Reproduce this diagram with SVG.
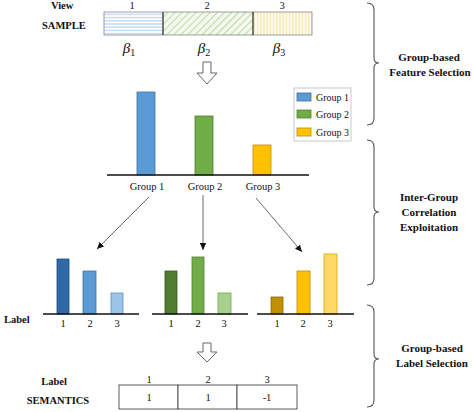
<svg xmlns="http://www.w3.org/2000/svg" width="474" height="412" viewBox="0 0 474 412" font-family="'Liberation Serif', 'DejaVu Serif', serif">
<defs>
<style>
text{font-family:'Liberation Serif','DejaVu Serif',serif;fill:#111;}
.b{font-weight:bold;font-size:10.5px;}
.n{font-size:10.5px;text-anchor:middle;}
.lg{font-size:10px;}
.beta{font-size:15px;font-style:italic;text-anchor:middle;}
.axis{stroke:#111;stroke-width:1.5;}
.brace{fill:none;stroke:#555;stroke-width:1.1;}
.conn{stroke:#444;stroke-width:0.8;fill:none;}
.hollow{fill:#fff;stroke:#666;stroke-width:1;}
.bl{fill:#5B9BD5;stroke:#41719C;stroke-width:0.8;}
.gr{fill:#70AD47;stroke:#507E32;stroke-width:0.8;}
.ye{fill:#FFC000;stroke:#BC8C00;stroke-width:0.8;}
.bl1{fill:#2E6AA8;stroke:#1F4E79;stroke-width:0.8;}
.bl3{fill:#9DC3E6;stroke:#5B8FBF;stroke-width:0.8;}
.gr1{fill:#4E7D2E;stroke:#375623;stroke-width:0.8;}
.gr3{fill:#A9D18E;stroke:#70AD47;stroke-width:0.8;}
.ye1{fill:#BF9000;stroke:#8C6A00;stroke-width:0.8;}
.ye3{fill:#FFD966;stroke:#D4A800;stroke-width:0.8;}
.cell{fill:#fff;stroke:#333;stroke-width:0.8;}
.bc{text-anchor:middle;font-weight:bold;font-size:11px;}
</style>
<pattern id="ph" width="6" height="3.2" patternUnits="userSpaceOnUse"><rect width="6" height="3.2" fill="#fff"/><line x1="0" y1="1.6" x2="6" y2="1.6" stroke="#9DC3E6" stroke-width="0.9"/></pattern>
<pattern id="pd" width="5" height="5" patternUnits="userSpaceOnUse" patternTransform="rotate(45)"><rect width="5" height="5" fill="#F4F9EE"/><line x1="2.5" y1="0" x2="2.5" y2="5" stroke="#B5D69C" stroke-width="0.9"/></pattern>
<pattern id="pv" width="3.2" height="6" patternUnits="userSpaceOnUse"><rect width="3.2" height="6" fill="#FFFDF2"/><line x1="1.6" y1="0" x2="1.6" y2="6" stroke="#F2DC8A" stroke-width="0.9"/></pattern>
<marker id="ah" markerWidth="8" markerHeight="8" refX="7" refY="4" orient="auto" markerUnits="userSpaceOnUse"><path d="M0,0.8 L7,4 L0,7.2 z" fill="#111"/></marker>
</defs>

<g id="sample">
<text class="b" x="51" y="9">View</text>
<text class="b" x="42" y="29">SAMPLE</text>
<text class="n" x="132" y="9">1</text>
<text class="n" x="207" y="9">2</text>
<text class="n" x="282" y="9">3</text>
<rect x="104" y="12" width="59" height="23" fill="url(#ph)"/>
<rect x="163" y="12" width="90" height="23" fill="url(#pd)"/>
<rect x="253" y="12" width="59" height="23" fill="url(#pv)"/>
<rect x="104" y="12" width="208" height="23" fill="none" stroke="#888" stroke-width="0.8"/>
<line x1="163" y1="12" x2="163" y2="35" stroke="#222" stroke-width="1.2"/>
<line x1="253" y1="12" x2="253" y2="35" stroke="#222" stroke-width="1.2"/>
<text class="beta" x="129" y="53">β<tspan font-size="10" font-style="normal" dy="3">1</tspan></text>
<text class="beta" x="204" y="53">β<tspan font-size="10" font-style="normal" dy="3">2</tspan></text>
<text class="beta" x="279" y="53">β<tspan font-size="10" font-style="normal" dy="3">3</tspan></text>
</g>

<g id="arrow-top">
<path class="hollow" d="M203,62 H211 V73 H217 L207,84 L197,73 H203 Z"/>
</g>

<g id="group-chart">
<rect class="bl" x="137" y="92" width="18" height="83"/>
<rect class="gr" x="195" y="116" width="18" height="59"/>
<rect class="ye" x="253" y="145" width="18" height="30"/>
<line class="axis" x1="107" y1="175" x2="309" y2="175"/>
<text class="n" x="147" y="190">Group 1</text>
<text class="n" x="205" y="190">Group 2</text>
<text class="n" x="263" y="190">Group 3</text>
</g>

<g id="legend">
<rect x="294" y="88" width="57" height="53" fill="#fff" stroke="#bbb" stroke-width="0.8"/>
<rect class="bl" x="297" y="93" width="14" height="8"/>
<rect class="gr" x="297" y="110" width="14" height="8"/>
<rect class="ye" x="297" y="128" width="14" height="8"/>
<text class="lg" x="316" y="101">Group 1</text>
<text class="lg" x="316" y="118">Group 2</text>
<text class="lg" x="316" y="136">Group 3</text>
</g>

<g id="connectors">
<line class="conn" x1="149" y1="197" x2="97" y2="249" marker-end="url(#ah)"/>
<line class="conn" x1="203" y1="195" x2="203" y2="250" marker-end="url(#ah)"/>
<line class="conn" x1="256" y1="198" x2="302" y2="252" marker-end="url(#ah)"/>
</g>

<g id="chart-group1">
<rect class="bl1" x="57" y="259" width="12" height="55"/>
<rect class="bl" x="83" y="271" width="13" height="43"/>
<rect class="bl3" x="111" y="293" width="12" height="21"/>
<line class="axis" x1="43" y1="314" x2="139" y2="314"/>
<text class="n" x="63" y="327">1</text>
<text class="n" x="90" y="327">2</text>
<text class="n" x="117" y="327">3</text>
</g>

<g id="chart-group2">
<rect class="gr1" x="165" y="271" width="12" height="43"/>
<rect class="gr" x="192" y="257" width="12" height="57"/>
<rect class="gr3" x="218" y="293" width="13" height="21"/>
<line class="axis" x1="152" y1="314" x2="248" y2="314"/>
<text class="n" x="171" y="327">1</text>
<text class="n" x="198" y="327">2</text>
<text class="n" x="224" y="327">3</text>
</g>

<g id="chart-group3">
<rect class="ye1" x="271" y="297" width="12" height="17"/>
<rect class="ye" x="297" y="271" width="13" height="43"/>
<rect class="ye3" x="324" y="254" width="13" height="60"/>
<line class="axis" x1="257" y1="314" x2="354" y2="314"/>
<text class="n" x="277" y="327">1</text>
<text class="n" x="303" y="327">2</text>
<text class="n" x="330" y="327">3</text>
</g>

<g id="label-text">
<text class="b" x="4" y="323">Label</text>
</g>

<g id="arrow-bottom">
<path class="hollow" d="M203,343 H211 V352 H217 L207,362 L197,352 H203 Z"/>
</g>

<g id="semantics">
<text class="b" x="54" y="385" text-anchor="middle">Label</text>
<text class="b" x="58" y="404" text-anchor="middle">SEMANTICS</text>
<text class="n" x="149" y="383">1</text>
<text class="n" x="208" y="383">2</text>
<text class="n" x="267" y="383">3</text>
<rect class="cell" x="119" y="385" width="59" height="24"/>
<rect class="cell" x="178" y="385" width="59" height="24"/>
<rect class="cell" x="237" y="385" width="60" height="24"/>
<text class="n" x="149" y="401" font-size="10">1</text>
<text class="n" x="208" y="401" font-size="10">1</text>
<text class="n" x="267" y="401" font-size="10">-1</text>
</g>

<g id="brace-feature">
<path class="brace" d="M367,3 Q374,3 374,10 V58 Q374,63 379,63 Q374,63 374,68 V118 Q374,125 367,125"/>
<text class="bc" x="429" y="61">Group-based</text>
<text class="bc" x="430" y="76">Feature Selection</text>
</g>

<g id="brace-inter">
<path class="brace" d="M367,140 Q374,140 374,147 V207 Q374,212 379,212 Q374,212 374,217 V278 Q374,285 367,285"/>
<text class="bc" x="429" y="201">Inter-Group</text>
<text class="bc" x="429" y="216">Correlation</text>
<text class="bc" x="429" y="231">Exploitation</text>
</g>

<g id="brace-label">
<path class="brace" d="M367,305 Q374,305 374,312 V354 Q374,359 379,359 Q374,359 374,364 V400 Q374,407 367,407"/>
<text class="bc" x="432" y="352">Group-based</text>
<text class="bc" x="432" y="367">Label Selection</text>
</g>
</svg>
